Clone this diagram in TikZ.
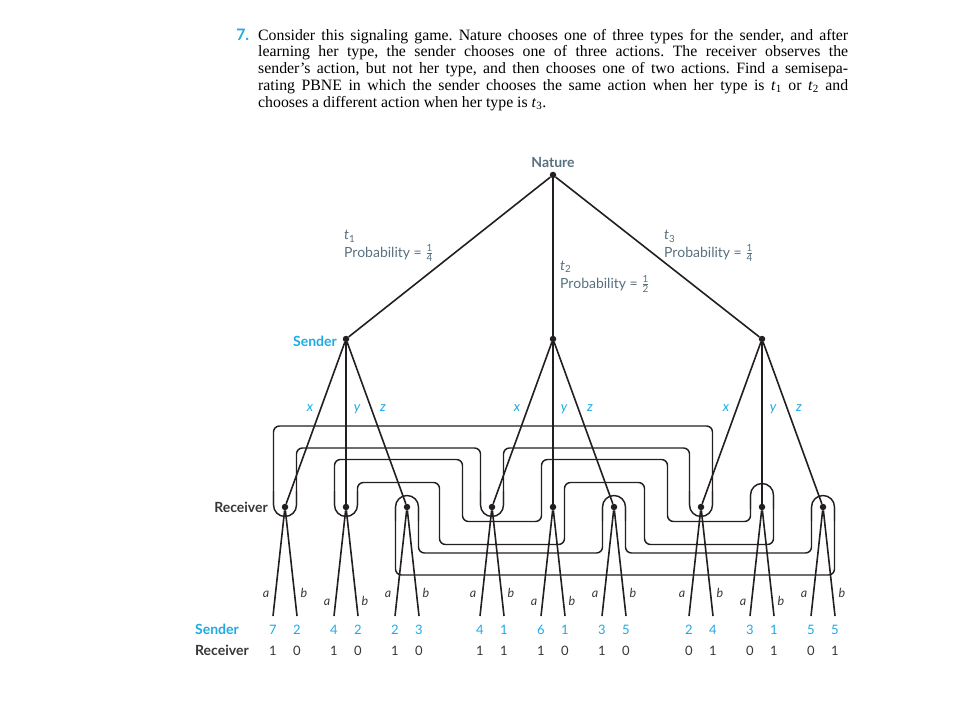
\documentclass[tikz,border=0pt]{standalone}
\usepackage{fontspec}
\usepackage{amsmath}
\setmainfont{Liberation Serif}
\newfontfamily\labf{Lato}
\definecolor{cy}{RGB}{30,170,226}
\definecolor{bgr}{RGB}{88,112,128}
\definecolor{dk}{RGB}{35,31,32}
\definecolor{rc}{RGB}{55,55,55}
\newcommand\myfrac[2]{\ensuremath{\frac{\text{#1}}{\text{#2}}}}
\newcommand\tsub[1]{\textit{t}\textsubscript{#1}}
\newcommand\capdn[2]{\draw[iset,rounded corners=11.5pt] ({#1-11.5},{#2-14}) -- ({#1-11.5},{#2+11.5}) -- ({#1+11.5},{#2+11.5}) -- ({#1+11.5},{#2-14});}
\newcommand\capup[2]{\draw[iset,rounded corners=11.5pt] ({#1-11.5},{#2+14}) -- ({#1-11.5},{#2-11.5}) -- ({#1+11.5},{#2-11.5}) -- ({#1+11.5},{#2+14});}
\begin{document}
\begin{tikzpicture}[x=1pt,y=-1pt,
 edge/.style={draw=dk,line width=1.6pt},
 iset/.style={draw=dk,line width=1.45pt},
 dot/.style={circle,fill=dk,inner sep=0pt,minimum size=6.5pt},
 lab/.style={inner sep=0pt,font=\labf\fontsize{14}{16}\selectfont},
 prob/.style={lab,text=bgr,anchor=base west},
 act/.style={inner sep=0pt,anchor=base,text=cy,font=\labf\itshape\fontsize{13.5}{15}\selectfont},
 ab/.style={inner sep=0pt,anchor=base,text=rc,font=\labf\itshape\fontsize{12.5}{14}\selectfont},
 pay/.style={inner sep=0pt,anchor=base,font=\labf\fontsize{13}{15}\selectfont}
]
\useasboundingbox (0,0) rectangle (960,711);

% paragraph
\node[anchor=north west,inner sep=0pt,text width=590pt,align=justify,
  font=\fontsize{15.8}{16.75}\selectfont] (para) at (258,28.5)
 {\frenchspacing\noindent\llap{\textcolor{cy}{\labf\bfseries 7.}\hspace{9pt}}Consider this signaling game. Nature chooses one of three types for the sender, and after\linebreak
 learning her type, the sender chooses one of three actions. The receiver observes the\linebreak
 sender's action, but not her type, and then chooses one of two actions. Find a semisepa-\linebreak
 rating PBNE in which the sender chooses the same action when her type is \tsub{1} or \tsub{2} and\linebreak
 chooses a different action when her type is \tsub{3}.};

% information sets
\draw[iset,rounded corners=6pt]
 (273.5,505) -- (273.5,426) -- (712.5,426) -- (712.5,505)
 (689.5,505) -- (689.5,448) -- (503.5,448) -- (503.5,505)
 (480.5,505) -- (480.5,448) -- (296.5,448) -- (296.5,505);
\capdn{285}{505}\capdn{492}{505}\capdn{701}{505}
\draw[iset,rounded corners=6pt]
 (334.5,505) -- (334.5,459.5) -- (462.5,459.5) -- (462.5,521.5) -- (541.5,521.5) -- (541.5,459.5) -- (667.5,459.5) -- (667.5,521.5) -- (750.5,521.5) -- (750.5,495)
 (773.5,495) -- (773.5,544.5) -- (644.5,544.5) -- (644.5,482.5) -- (564.5,482.5) -- (564.5,544.5) -- (439.5,544.5) -- (439.5,482.5) -- (357.5,482.5) -- (357.5,505);
\capdn{346}{505}\capup{762}{495}
\draw[iset,rounded corners=6pt]
 (418.5,507) -- (418.5,553) -- (602.5,553) -- (602.5,507)
 (625.5,507) -- (625.5,553) -- (811.5,553) -- (811.5,507)
 (834.5,507) -- (834.5,575) -- (395.5,575) -- (395.5,507);
\capup{407}{507}\capup{614}{507}\capup{823}{507}

% nature and senders
\node[dot] (N) at (553,175) {};
\node[lab,anchor=base,text=bgr,font=\labf\bfseries\fontsize{14}{16}\selectfont] (Nl) at (553,167.5) {Nature};
\node[dot] (S1) at (346,339) {};
\node[dot] (S2) at (553,339) {};
\node[dot] (S3) at (762,339) {};
\node[lab,anchor=base east,text=cy,font=\labf\bfseries\fontsize{14}{16}\selectfont] (S1l) at (337,346) {Sender};
\draw[edge] (N) -- (S1);
\draw[edge] (N) -- (S2);
\draw[edge] (N) -- (S3);
\node[prob] (t1a) at (344,240) {\tsub{1}};
\node[prob] (t1b) at (344,257) {Probability = \myfrac{1}{4}};
\node[prob] (t2a) at (560,270) {\tsub{2}};
\node[prob] (t2b) at (560,288) {Probability = \myfrac{1}{2}};
\node[prob] (t3a) at (664,240) {\tsub{3}};
\node[prob] (t3b) at (664,257) {Probability = \myfrac{1}{4}};

% receivers, leaves, payoffs
\foreach \s/\n/\rx/\lo/\sa/\sb/\ra/\rb in
 {1/1x/285/0/7/2/1/0, 1/1y/346/1/4/2/1/0, 1/1z/407/0/2/3/1/0,
  2/2x/492/0/4/1/1/1, 2/2y/553/1/6/1/1/0, 2/2z/614/0/3/5/1/0,
  3/3x/701/0/2/4/0/1, 3/3y/762/1/3/1/0/1, 3/3z/823/0/5/5/0/1}{
  \node[dot] (R\n) at (\rx,507) {};
  \coordinate (L\n a) at ({\rx-12},616);
  \coordinate (L\n b) at ({\rx+12},616);
  \draw[edge] (S\s) -- (R\n);
  \draw[edge] (R\n) -- (L\n a);
  \draw[edge] (R\n) -- (L\n b);
  \ifnum\lo=1 \def\ly{605}\else\def\ly{597}\fi
  \node[ab] (A\n) at ({\rx-19},\ly) {a};
  \node[ab] (B\n) at ({\rx+19},\ly) {b};
  \node[pay,text=cy] (P\n a) at ({\rx-12},634) {\sa};
  \node[pay,text=cy] (P\n b) at ({\rx+12},634) {\sb};
  \node[pay,text=rc] (Q\n a) at ({\rx-12},655) {\ra};
  \node[pay,text=rc] (Q\n b) at ({\rx+12},655) {\rb};
}
\node[lab,anchor=base east,text=rc,font=\labf\bfseries\fontsize{14}{16}\selectfont] (Rl) at (268,512.5) {Receiver};
\node[lab,anchor=base west,text=cy,font=\labf\bfseries\fontsize{14}{16}\selectfont] (Sl) at (195,634) {Sender};
\node[lab,anchor=base west,text=rc,font=\labf\bfseries\fontsize{14}{16}\selectfont] (Ql) at (195,655) {Receiver};

% action labels x y z
\foreach \sx/\i in {346/1,553/2,762/3}{
  \node[act] (x\i) at ({\sx-36},411.5) {x};
  \node[act] (y\i) at ({\sx+11},411.5) {y};
  \node[act] (z\i) at ({\sx+37},411.5) {z};
}
\end{tikzpicture}
\end{document}
